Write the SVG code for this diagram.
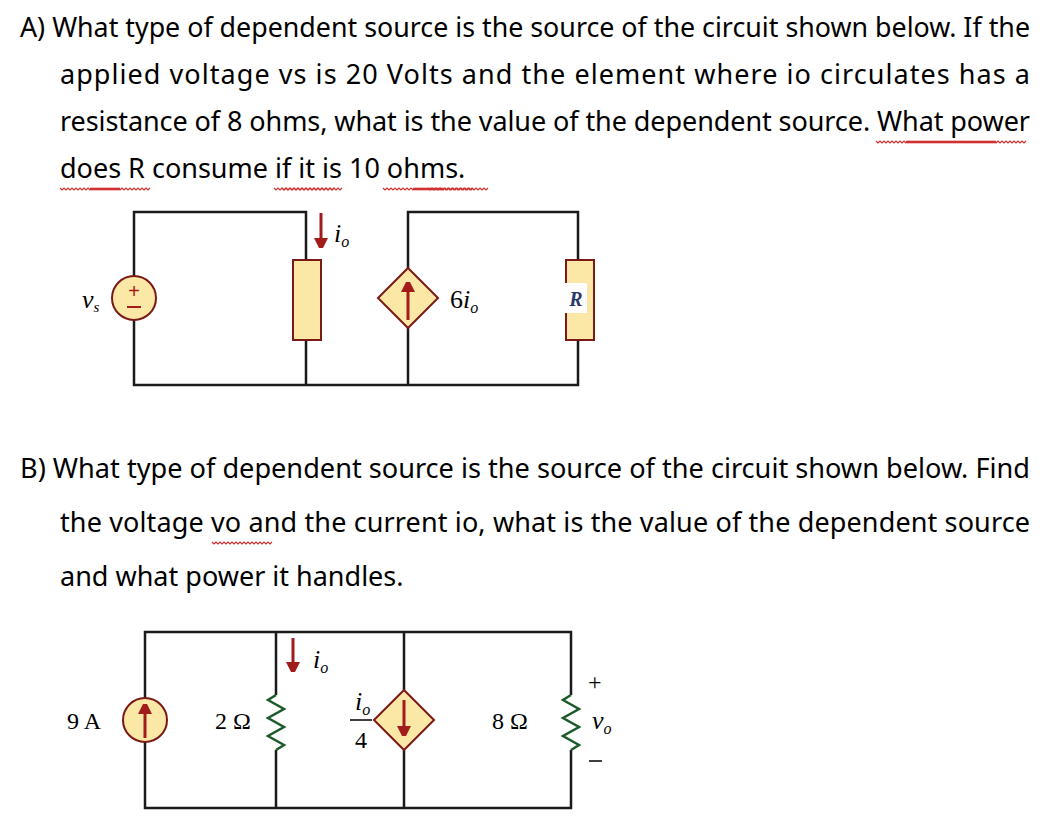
<svg xmlns="http://www.w3.org/2000/svg" width="1050" height="833" viewBox="0 0 1050 833">
<defs>
<style>
.t{font-family:"Noto Sans","Open Sans",sans-serif;font-size:27px;fill:#000}
.w{fill:none;stroke:#1a1a1a;stroke-width:2.5}
.c{fill:#fbe7a6;stroke:#7a1a14;stroke-width:2}
.m{font-family:"Liberation Serif",serif;font-style:italic;font-size:26px}
.n{font-family:"Liberation Serif",serif;font-size:24px}
.a{stroke:#a31c1c;stroke-width:3;fill:none}
.sq{fill:none;stroke:#d03030;stroke-width:1.2}
.z{fill:none;stroke:#1d5a2a;stroke-width:2.5}
</style>
<marker id="ah" markerWidth="10" markerHeight="14" refX="2" refY="7" orient="auto" markerUnits="userSpaceOnUse"><path d="M0,0 L14,7 L0,14z" fill="#a31c1c"/></marker>
<path id="sq" d="M0,0 l2,2 l2,-2 l2,2 l2,-2 l2,2 l2,-2 l2,2 l2,-2 l2,2 l2,-2 l2,2 l2,-2 l2,2 l2,-2 l2,2 l2,-2 l2,2 l2,-2 l2,2 l2,-2 l2,2 l2,-2 l2,2 l2,-2 l2,2 l2,-2 l2,2 l2,-2 l2,2 l2,-2" class="sq"/>
</defs>
<rect width="1050" height="833" fill="#fff"/>
<g id="textA">
<text class="t" x="20" y="37" textLength="1010" lengthAdjust="spacingAndGlyphs">A)  What type of dependent source is the source of the circuit shown below. If the</text>
<text class="t" x="60" y="84" textLength="970" lengthAdjust="spacing">applied voltage vs is 20 Volts and the element where io circulates has a</text>
<text class="t" x="60" y="131" textLength="970" lengthAdjust="spacing">resistance of 8 ohms, what is the value of the dependent source. What power</text>
<text class="t" x="60" y="178">does R consume if it is 10 ohms.</text>
<g transform="translate(876,141)"><use href="#sq"/><use href="#sq" x="30"/><use href="#sq" x="60"/><use href="#sq" x="90"/></g>
<g transform="translate(60,188)"><use href="#sq"/><use href="#sq" x="30"/></g>
<g transform="translate(274,188)"><use href="#sq"/><use href="#sq" x="8"/></g>
<g transform="translate(383,188)"><use href="#sq"/><use href="#sq" x="30"/><use href="#sq" x="45"/></g>
</g>
<g id="connA">
<path class="w" d="M134,276 V212 H306 V260 M306,340 V385 H134 V320 M408,268 V212 H578 V260 M578,340 V385 H306 M408,328 V385"/>
</g>
<g id="vs"><circle class="c" cx="134" cy="298" r="22"/><text x="134" y="298" text-anchor="middle" fill="#a31c1c" font-family="Liberation Sans,sans-serif" font-size="20">+</text><line x1="127" y1="307" x2="141" y2="307" stroke="#a31c1c" stroke-width="2"/><text class="m" x="82" y="308" font-size="24">v<tspan font-size="15" dy="4">s</tspan></text></g>
<g id="resA"><rect class="c" x="293" y="260" width="28" height="80"/></g>
<g id="ioA"><line class="a" x1="321" y1="213" x2="321" y2="240" marker-end="url(#ah)"/><text class="m" x="334" y="242">i<tspan font-size="16" dy="5">o</tspan></text></g>
<g id="depA"><path class="c" d="M408,268 L438,298 L408,328 L378,298z"/><line class="a" x1="408" y1="320" x2="408" y2="290" marker-end="url(#ah)"/><text class="m" x="450" y="308"><tspan font-style="normal">6</tspan>i<tspan font-size="16" dy="5">o</tspan></text></g>
<g id="R"><rect class="c" x="566" y="260" width="28" height="80"/><rect x="565" y="283" width="22" height="30" fill="#fff"/><text x="576" y="306" text-anchor="middle" font-family="Liberation Serif,serif" font-style="italic" font-weight="bold" font-size="20" fill="#2a3a6a">R</text></g>
<g id="textB">
<text class="t" x="20" y="478" textLength="1010" lengthAdjust="spacingAndGlyphs">B)  What type of dependent source is the source of the circuit shown below. Find</text>
<text class="t" x="60" y="532" textLength="970" lengthAdjust="spacing">the voltage vo and the current io, what is the value of the dependent source</text>
<text class="t" x="60" y="586">and what power it handles.</text>
<g transform="translate(212,542)"><use href="#sq"/></g>
</g>
<g id="connB">
<path class="w" d="M145,698 V632 H571 V695 M571,750 V808 H145 V742 M276,632 V695 M276,750 V808 M404,690 V632 M404,750 V808"/>
</g>
<g id="src9"><circle class="c" cx="145" cy="720" r="22"/><line class="a" x1="145" y1="738" x2="145" y2="712" marker-end="url(#ah)"/><text class="n" x="67" y="729">9 A</text></g>
<g id="r2"><path class="z" d="M276,695 l-8,5 l16,9 l-16,9 l16,9 l-16,9 l16,9 l-8,5"/><text class="n" x="215" y="729">2 Ω</text></g>
<g id="ioB"><line class="a" x1="293" y1="638" x2="293" y2="664" marker-end="url(#ah)"/><text class="m" x="313" y="668">i<tspan font-size="16" dy="5">o</tspan></text></g>
<g id="depB"><path class="c" d="M404,690 L434,720 L404,750 L374,720z"/><line class="a" x1="404" y1="700" x2="404" y2="728" marker-end="url(#ah)"/><text class="m" x="355" y="710">i<tspan font-size="16" dy="5">o</tspan></text><line x1="350" y1="720" x2="372" y2="720" stroke="#000" stroke-width="1.5"/><text class="n" x="355" y="748">4</text></g>
<g id="r8"><path class="z" d="M571,695 l-8,5 l16,9 l-16,9 l16,9 l-16,9 l16,9 l-8,5"/><text class="n" x="492" y="729">8 Ω</text><text class="n" x="588" y="690" font-size="22">+</text><text class="m" x="592" y="729">v<tspan font-size="16" dy="5">o</tspan></text><line x1="589" y1="761" x2="602" y2="761" stroke="#000" stroke-width="1.5"/></g>
</svg>
